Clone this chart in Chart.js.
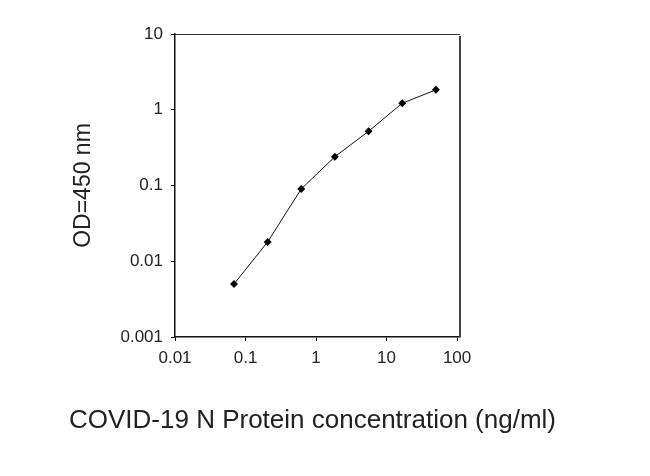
<!DOCTYPE html>
<html>
<head>
<meta charset="utf-8">
<script src="https://cdn.jsdelivr.net/npm/chart.js@4.4.1/dist/chart.umd.min.js"></script>
<style>
  html, body { margin: 0; padding: 0; background: #fff; }
  #wrap { width: 650px; height: 476px; }
</style>
</head>
<body>
<div id="wrap"><canvas id="curve" width="650" height="476"></canvas></div>
<script>
// Datos de la curva estandar (dilucion 1:3)
const concentrations = [0.0686, 0.206, 0.617, 1.85, 5.56, 16.7, 50];
const odValues = [0.005, 0.018, 0.09, 0.24, 0.52, 1.22, 1.83];
const xTicks = [0.01, 0.1, 1, 10, 100];
const yTicks = [0.001, 0.01, 0.1, 1, 10];
const xTitle = 'COVID-19 N Protein concentration (ng/ml)';

const FONT = "'Liberation Sans', Arial, sans-serif";

// Marco superior y derecho + titulo del eje X (sin maxWidth, para que no se comprima)
const framePlugin = {
    id: 'frame',
    afterDraw(chart) {
        const { ctx, chartArea: a } = chart;
        ctx.save();
        ctx.strokeStyle = '#333';
        ctx.lineWidth = 1.2;
        ctx.beginPath();
        ctx.moveTo(a.left, a.top + 0.5);
        ctx.lineTo(a.right, a.top + 0.5);
        ctx.stroke();
        ctx.lineWidth = 2;
        ctx.strokeStyle = '#444';
        ctx.beginPath();
        ctx.moveTo(a.right, a.top + 2);
        ctx.lineTo(a.right, a.bottom);
        ctx.stroke();

        ctx.fillStyle = '#222';
        ctx.font = '26px ' + FONT;
        ctx.textAlign = 'center';
        ctx.textBaseline = 'middle';
        ctx.fillText(xTitle, a.left + (a.right - a.left) / 2 - 5, 421);
        ctx.restore();
    }
};

const points = concentrations.map((c, i) => ({ x: c, y: odValues[i] }));

new Chart(document.getElementById('curve'), {
    type: 'line',
    data: {
        datasets: [{
            data: points,
            borderColor: '#111',
            borderWidth: 1,
            backgroundColor: '#000',
            pointStyle: 'rectRot',
            pointRadius: 4,
            pointBorderWidth: 0,
            tension: 0
        }]
    },
    options: {
        responsive: false,
        animation: false,
        devicePixelRatio: 1,
        layout: { padding: { top: 34, right: 190, left: 0, bottom: 0 } },
        plugins: {
            legend: { display: false },
            tooltip: { enabled: false }
        },
        scales: {
            x: {
                type: 'logarithmic',
                position: 'bottom',
                min: 0.01,
                max: 110,
                afterBuildTicks: scale => { scale.ticks = xTicks.map(v => ({ value: v })); },
                afterFit: scale => { scale.height = 139; },
                border: { display: true, color: '#111', width: 1.5 },
                grid: { drawOnChartArea: false, drawTicks: true, tickLength: 4, color: '#111' },
                ticks: {
                    autoSkip: false,
                    maxRotation: 0,
                    padding: 7,
                    color: '#222',
                    font: { family: FONT, size: 17 },
                    callback: v => String(v)
                }
            },
            y: {
                type: 'logarithmic',
                position: 'left',
                min: 0.001,
                max: 10,
                afterBuildTicks: scale => { scale.ticks = yTicks.map(v => ({ value: v })); },
                afterFit: scale => { scale.width = 175; },
                border: { display: true, color: '#111', width: 1.5 },
                grid: { drawOnChartArea: false, drawTicks: true, tickLength: 4, color: '#111' },
                ticks: {
                    autoSkip: false,
                    padding: 8,
                    color: '#222',
                    font: { family: FONT, size: 17 },
                    callback: v => String(v)
                },
                title: {
                    display: true,
                    text: 'OD=450 nm',
                    color: '#222',
                    font: { family: FONT, size: 23 },
                    padding: { top: 70, bottom: 0 }
                }
            }
        }
    },
    plugins: [framePlugin]
});
</script>
</body>
</html>
